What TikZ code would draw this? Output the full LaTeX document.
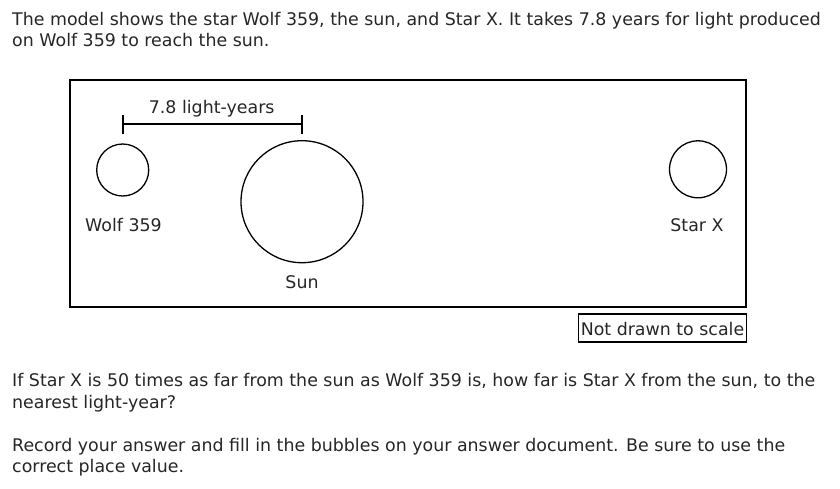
\documentclass[tikz,border=0pt]{standalone}
\usepackage{fontspec}
\setmainfont{DejaVu Sans}
\begin{document}
\begin{tikzpicture}[x=1pt,y=-1pt,
  txt/.style={anchor=base west,inner sep=0,font=\fontsize{17.4}{20}\selectfont,text=black!85},
  lbl/.style={anchor=base,inner sep=0,font=\fontsize{17.4}{20}\selectfont,text=black!85},
  star/.style={circle,draw,line width=1.3pt,inner sep=0},
  frame/.style={draw,line width=2pt},
  dim/.style={line width=2pt}]
\useasboundingbox (0,0) rectangle (840,488);
\node[txt] (t1) at (12,25) {The model shows the star Wolf 359, the sun, and Star X. It takes 7.8 years for light produced};
\node[txt] (t2) at (12,46) {on Wolf 359 to reach the sun.};
\draw[frame] (70,80) rectangle (746,306.5);
\node[star,minimum size=52pt] (wolf) at (122.7,170) {};
\node[star,minimum size=122pt] (sun) at (302,201.7) {};
\node[star,minimum size=57pt] (starx) at (698,169.3) {};
\node[lbl] (lw) at (123.5,231.7) {Wolf 359};
\node[lbl] (ls) at (302,288.3) {Sun};
\node[lbl] (lx) at (697,231.7) {Star X};
\coordinate (dl) at (122.8,124.3);
\coordinate (dr) at (301.7,124.3);
\coordinate (dlt) at (122.8,115);
\coordinate (dlb) at (122.8,134);
\coordinate (drt) at (301.7,115);
\coordinate (drb) at (301.7,134);
\draw[dim] (dl) -- (dr);
\draw[dim] (dlt) -- (dlb);
\draw[dim] (drt) -- (drb);
\node[lbl] (ld) at (211.7,113.3) {7.8 light-years};
\node[draw,line width=1.6pt,minimum width=168pt,minimum height=27.5pt,inner sep=0] (nds) at (662.5,328) {};
\node[lbl] (ndt) at (662.5,335) {Not drawn to scale};
\node[txt] (b1) at (12,386.7) {If Star X is 50 times as far from the sun as Wolf 359 is, how far is Star X from the sun, to the};
\node[txt] (b2) at (12,408) {nearest light-year?};
\node[txt] (b3) at (12,451.7) {Record your answer and fill in the bubbles on your answer document. Be sure to use the};
\node[txt] (b4) at (12,472.7) {correct place value.};
\end{tikzpicture}
\end{document}
